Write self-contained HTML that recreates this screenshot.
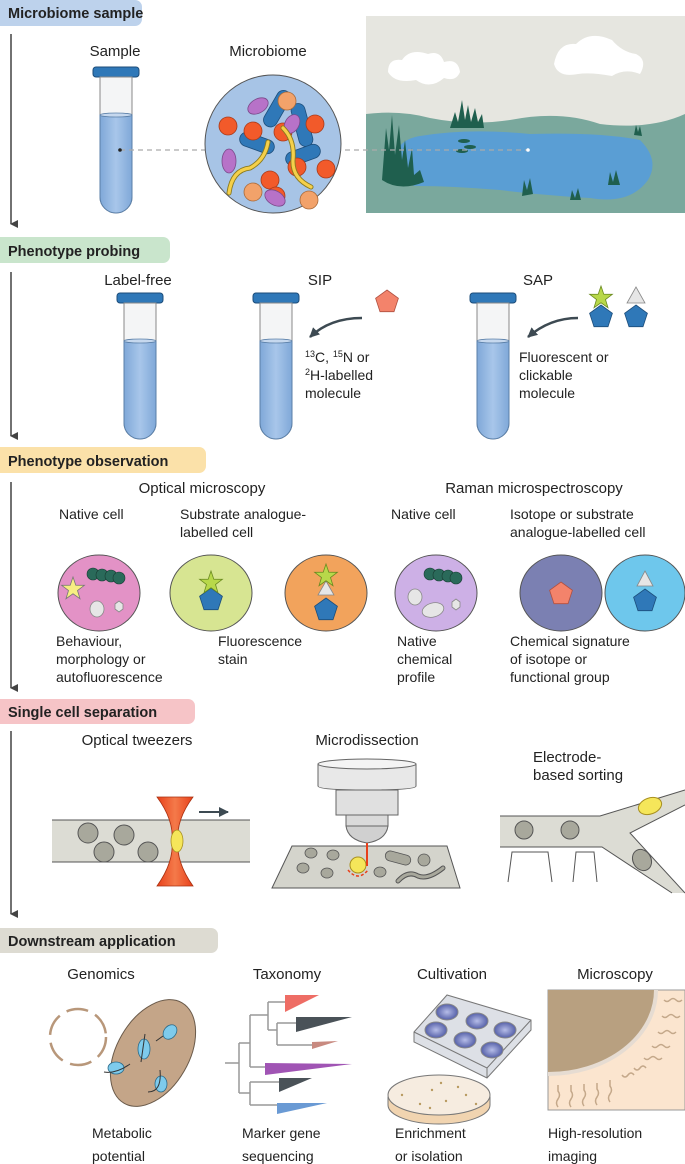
<!DOCTYPE html>
<html><head><meta charset="utf-8"><style>
html,body{margin:0;padding:0;background:#fff}
svg{display:block}
text{font-family:"Liberation Sans",sans-serif;fill:#222}
.h{font-size:14.5px;font-weight:bold}
.t{font-size:15px}
.s{font-size:14px}
</style></head><body>
<svg width="685" height="1164" viewBox="0 0 685 1164" xmlns="http://www.w3.org/2000/svg">
<defs>
<marker id="ah" markerWidth="8" markerHeight="8" refX="4" refY="7" orient="auto" markerUnits="userSpaceOnUse"><path d="M0,0 L4,8 L8,0 Z" fill="#444"/></marker>
<marker id="ar" markerWidth="10" markerHeight="10" refX="9" refY="5" orient="auto" markerUnits="userSpaceOnUse"><path d="M0,0 L10,5 L0,10 Z" fill="#3d4a52"/></marker>
<linearGradient id="liq" x1="0" x2="1"><stop offset="0" stop-color="#7fa8d8"/><stop offset=".5" stop-color="#a8c6ea"/><stop offset="1" stop-color="#7fa8d8"/></linearGradient>
<linearGradient id="beam" x1="0" x2="1"><stop offset="0" stop-color="#e8401a"/><stop offset=".5" stop-color="#f47a4a"/><stop offset="1" stop-color="#e8401a"/></linearGradient>
<radialGradient id="well"><stop offset="0" stop-color="#b6bde8"/><stop offset="1" stop-color="#5560a8"/></radialGradient>
<g id="tube">
<rect x="-23" y="0" width="46" height="10" rx="3" fill="#2f78b8" stroke="#1c4d7a" stroke-width="1"/>
<path d="M-16,10 L-16,130 A16,16 0 0 0 16,130 L16,10 Z" fill="#f4f5f6" stroke="#888" stroke-width="1"/>
<path d="M-16,48 L-16,130 A16,16 0 0 0 16,130 L16,48 Z" fill="url(#liq)" stroke="#5a7fa8" stroke-width="1"/>
<ellipse cx="0" cy="48" rx="16" ry="2" fill="#c6d8ee" stroke="#5a7fa8" stroke-width=".8"/>
</g>
<path id="pent" d="M0,-12 L11.4,-3.7 L7,9.7 L-7,9.7 L-11.4,-3.7 Z"/>
<path id="star" d="M0,-12 L2.8,-3.8 L11.4,-3.7 L4.5,1.5 L7,9.7 L0,4.8 L-7,9.7 L-4.5,1.5 L-11.4,-3.7 L-2.8,-3.8 Z"/>
</defs>

<!-- Headers -->
<rect x="-8" y="0" width="150" height="26" rx="7" fill="#bdd2ec"/>
<text class="h" x="8" y="18">Microbiome sample</text>
<line x1="11" y1="34" x2="11" y2="224" stroke="#444" stroke-width="1.5" marker-end="url(#ah)"/>

<rect x="-8" y="237" width="178" height="26" rx="7" fill="#c9e5cc"/>
<text class="h" x="8" y="256">Phenotype probing</text>
<line x1="11" y1="272" x2="11" y2="436" stroke="#444" stroke-width="1.5" marker-end="url(#ah)"/>

<rect x="-8" y="447" width="214" height="26" rx="7" fill="#fbe1a9"/>
<text class="h" x="8" y="466">Phenotype observation</text>
<line x1="11" y1="482" x2="11" y2="688" stroke="#444" stroke-width="1.5" marker-end="url(#ah)"/>

<rect x="-8" y="699" width="203" height="25" rx="7" fill="#f6c4c7"/>
<text class="h" x="8" y="717">Single cell separation</text>
<line x1="11" y1="731" x2="11" y2="914" stroke="#444" stroke-width="1.5" marker-end="url(#ah)"/>

<rect x="-8" y="928" width="226" height="25" rx="7" fill="#dddbd2"/>
<text class="h" x="8" y="946">Downstream application</text>

<!-- Section 1 -->
<text class="t" x="115" y="56" text-anchor="middle">Sample</text>
<text class="t" x="268" y="56" text-anchor="middle">Microbiome</text>
<use href="#tube" x="116" y="67"/>
<rect x="366" y="16" width="319" height="197" fill="#e6e6e0"/>
<path d="M366,114 Q400,110 430,118 Q470,126 510,120 Q560,110 600,124 Q650,130 685,114 L685,213 L366,213 Z" fill="#7aa89d"/>
<path d="M392,172 Q392,140 420,136 Q470,128 530,134 Q600,132 640,140 Q660,160 648,180 Q630,205 590,198 Q540,195 500,190 Q450,186 420,186 Q395,186 392,172 Z" fill="#5a9ed4"/>
<path d="M382,180 L386,128 L389,150 L392,115 L395,155 L399,125 L402,160 L405,140 L408,168 L412,148 L414,175 L420,170 L424,182 Q400,192 382,180 Z" fill="#1f5f4e"/>
<path d="M450,128 L455,112 L458,122 L462,100 L465,120 L468,105 L471,122 L475,108 L478,122 L482,114 L484,128 Z" fill="#1f5f4e"/>
<ellipse cx="464" cy="141" rx="6" ry="2" fill="#1f5f4e"/><ellipse cx="470" cy="147" rx="6" ry="2" fill="#1f5f4e"/><ellipse cx="462" cy="151" rx="6" ry="2" fill="#1f5f4e"/>
<path d="M522,196 L524,180 L527,190 L530,178 L533,194 Z M570,200 L572,190 L575,198 L578,188 L581,200 Z M608,185 L610,172 L613,182 L616,170 L620,185 Z M634,135 L636,125 L638,132 L640,126 L642,136 Z" fill="#1f5f4e"/>
<path d="M388,72 Q388,58 402,60 Q410,48 428,54 Q440,50 444,62 Q458,58 460,72 Q456,82 444,78 Q430,90 416,80 Q395,84 388,72 Z" fill="#fff"/>
<path d="M554,64 Q558,42 576,44 Q590,30 612,40 Q622,52 636,54 Q648,60 640,74 Q625,68 612,76 Q590,72 578,74 Q558,78 554,64 Z" fill="#fff"/>
<line x1="120" y1="150" x2="528" y2="150" stroke="#aaa" stroke-width="1.2" stroke-dasharray="5,4"/>
<circle cx="120" cy="150" r="1.8" fill="#222"/>
<circle cx="528" cy="150" r="1.8" fill="#fff"/>
<ellipse cx="273" cy="144" rx="68" ry="69" fill="#a7c4e6" stroke="#555" stroke-width="1"/>
<g fill="#2f78b8" stroke="#1c4d7a" stroke-width=".8">
<rect x="260" y="106" width="14" height="40" rx="7" transform="rotate(30 267 126) translate(0,-20)"/>
<rect x="295" y="103" width="14" height="44" rx="7" transform="rotate(-15 302 125)"/>
<rect x="239" y="136" width="36" height="14" rx="7" transform="rotate(20 257 143)"/>
<rect x="285" y="148" width="36" height="14" rx="7" transform="rotate(-20 303 155)"/>
</g>
<g fill="#f25a2a" stroke="#a83a1a" stroke-width=".8">
<circle cx="228" cy="126" r="9"/><circle cx="315" cy="124" r="9"/><circle cx="253" cy="131" r="9"/><circle cx="283" cy="132" r="9"/>
<circle cx="297" cy="167" r="9"/><circle cx="326" cy="169" r="9"/><circle cx="270" cy="180" r="9"/><circle cx="276" cy="196" r="9"/>
</g>
<g fill="#f2a26a" stroke="#a86a3a" stroke-width=".8">
<circle cx="287" cy="101" r="9"/><circle cx="253" cy="192" r="9"/><circle cx="309" cy="200" r="9"/>
</g>
<g fill="#b772c8" stroke="#7a4a8a" stroke-width=".8">
<ellipse cx="258" cy="106" rx="11" ry="7" transform="rotate(-30 258 106)"/>
<ellipse cx="229" cy="161" rx="7" ry="12"/>
<ellipse cx="275" cy="198" rx="11" ry="7" transform="rotate(30 275 198)"/>
<ellipse cx="292" cy="124" rx="7" ry="10" transform="rotate(30 292 124)"/>
</g>
<path d="M229,193 Q232,170 250,168 Q265,160 268,142" fill="none" stroke="#8a7a20" stroke-width="5" stroke-linecap="round"/>
<path d="M229,193 Q232,170 250,168 Q265,160 268,142" fill="none" stroke="#f5d04a" stroke-width="3.2" stroke-linecap="round"/>
<path d="M283,128 Q295,140 293,160 Q292,178 311,187" fill="none" stroke="#8a7a20" stroke-width="5" stroke-linecap="round"/>
<path d="M283,128 Q295,140 293,160 Q292,178 311,187" fill="none" stroke="#f5d04a" stroke-width="3.2" stroke-linecap="round"/>

<!-- Section 2 -->
<text class="t" x="138" y="285" text-anchor="middle">Label-free</text>
<text class="t" x="320" y="285" text-anchor="middle">SIP</text>
<text class="t" x="538" y="285" text-anchor="middle">SAP</text>
<use href="#tube" x="140" y="293"/>
<use href="#tube" x="276" y="293"/>
<use href="#tube" x="493" y="293"/>
<use href="#pent" x="387" y="302" fill="#f3836b" stroke="#b05040" stroke-width=".8"/>
<path d="M362,318 Q330,318 310,337" fill="none" stroke="#3d4a52" stroke-width="2.5" marker-end="url(#ar)"/>
<text class="s" x="305" y="362"><tspan font-size="9" dy="-5">13</tspan><tspan dy="5">C, </tspan><tspan font-size="9" dy="-5">15</tspan><tspan dy="5">N or</tspan></text>
<text class="s" x="305" y="380"><tspan font-size="9" dy="-5">2</tspan><tspan dy="5">H-labelled</tspan></text>
<text class="s" x="305" y="398">molecule</text>
<use href="#pent" x="601" y="317" fill="#2f78b8" stroke="#1c4d7a" stroke-width=".8"/>
<use href="#star" x="601" y="298" fill="#b8d84a" stroke="#6a8a20" stroke-width=".8"/>
<use href="#pent" x="636" y="317" fill="#2f78b8" stroke="#1c4d7a" stroke-width=".8"/>
<path d="M636,287 L645,303 L627,303 Z" fill="#e6e6e6" stroke="#888" stroke-width=".8"/>
<path d="M578,318 Q550,318 528,337" fill="none" stroke="#3d4a52" stroke-width="2.5" marker-end="url(#ar)"/>
<text class="s" x="519" y="362">Fluorescent or</text>
<text class="s" x="519" y="380">clickable</text>
<text class="s" x="519" y="398">molecule</text>

<!-- Section 3 -->
<text class="t" x="202" y="493" text-anchor="middle">Optical microscopy</text>
<text class="t" x="534" y="493" text-anchor="middle">Raman microspectroscopy</text>
<text class="s" x="59" y="519">Native cell</text>
<text class="s" x="180" y="519">Substrate analogue-</text>
<text class="s" x="180" y="537">labelled cell</text>
<text class="s" x="391" y="519">Native cell</text>
<text class="s" x="510" y="519">Isotope or substrate</text>
<text class="s" x="510" y="537">analogue-labelled cell</text>
<g stroke="#555" stroke-width="1">
<ellipse cx="99" cy="593" rx="41" ry="38" fill="#e392c6"/>
<ellipse cx="211" cy="593" rx="41" ry="38" fill="#d7e592"/>
<ellipse cx="326" cy="593" rx="41" ry="38" fill="#f2a35c"/>
<ellipse cx="436" cy="593" rx="41" ry="38" fill="#cdb0e6"/>
<ellipse cx="561" cy="593" rx="41" ry="38" fill="#7b80b2"/>
<ellipse cx="645" cy="593" rx="40" ry="38" fill="#6ec7ec"/>
</g>
<g fill="#2a6a5a" stroke="#183c33" stroke-width=".6">
<circle cx="93" cy="574" r="6"/><circle cx="102" cy="575" r="6"/><circle cx="111" cy="576" r="6"/><circle cx="119" cy="578" r="6"/>
<circle cx="430" cy="574" r="6"/><circle cx="439" cy="575" r="6"/><circle cx="448" cy="576" r="6"/><circle cx="456" cy="578" r="6"/>
</g>
<use href="#star" x="73" y="589" fill="#f7ee82" stroke="#777" stroke-width=".8"/>
<g fill="#e6e6e6" stroke="#888" stroke-width=".8">
<ellipse cx="97" cy="609" rx="7" ry="8"/><path d="M115,604 l4,-3 l4,3 l0,5 l-4,3 l-4,-3 Z"/>
<ellipse cx="415" cy="597" rx="7" ry="8"/><ellipse cx="433" cy="610" rx="11" ry="7" transform="rotate(-15 433 610)"/><path d="M452,602 l4,-3 l4,3 l0,5 l-4,3 l-4,-3 Z"/>
<path d="M326,581 L334,595 L318,595 Z"/>
<path d="M645,571 L653,586 L637,586 Z"/>
</g>
<use href="#pent" x="211" y="600" fill="#2f78b8" stroke="#1c4d7a" stroke-width=".8"/>
<use href="#star" x="211" y="583" fill="#b8d84a" stroke="#6a8a20" stroke-width=".8"/>
<use href="#pent" x="326" y="610" fill="#2f78b8" stroke="#1c4d7a" stroke-width=".8"/>
<use href="#star" x="326" y="576" fill="#b8d84a" stroke="#6a8a20" stroke-width=".8"/>
<use href="#pent" x="561" y="594" fill="#f3836b" stroke="#b05040" stroke-width=".8"/>
<use href="#pent" x="645" y="601" fill="#2f78b8" stroke="#1c4d7a" stroke-width=".8"/>
<text class="s" x="56" y="646">Behaviour,</text>
<text class="s" x="56" y="664">morphology or</text>
<text class="s" x="56" y="682">autofluorescence</text>
<text class="s" x="218" y="646">Fluorescence</text>
<text class="s" x="218" y="664">stain</text>
<text class="s" x="397" y="646">Native</text>
<text class="s" x="397" y="664">chemical</text>
<text class="s" x="397" y="682">profile</text>
<text class="s" x="510" y="646">Chemical signature</text>
<text class="s" x="510" y="664">of isotope or</text>
<text class="s" x="510" y="682">functional group</text>

<!-- Section 4 -->
<text class="t" x="137" y="745" text-anchor="middle">Optical tweezers</text>
<text class="t" x="367" y="745" text-anchor="middle">Microdissection</text>
<text class="t" x="533" y="762">Electrode-</text>
<text class="t" x="533" y="780">based sorting</text>
<rect x="52" y="820" width="198" height="42" fill="#dcdcd4"/>
<line x1="52" y1="820" x2="250" y2="820" stroke="#555"/><line x1="52" y1="862" x2="250" y2="862" stroke="#555"/>
<g fill="#a8a89c" stroke="#555" stroke-width="1">
<circle cx="88" cy="833" r="10"/><circle cx="124" cy="835" r="10"/><circle cx="104" cy="852" r="10"/><circle cx="148" cy="852" r="10"/>
</g>
<path d="M157,797 L193,797 Q176,820 178,841 Q176,862 193,886 L157,886 Q174,862 172,841 Q174,820 157,797 Z" fill="url(#beam)" stroke="#a83010" stroke-width=".8"/>
<ellipse cx="177" cy="841" rx="6" ry="11" fill="#f5e65a" stroke="#a89020" stroke-width=".8"/>
<line x1="199" y1="812" x2="228" y2="812" stroke="#3d4a52" stroke-width="2" marker-end="url(#ar)"/>
<path d="M318,764 L416,764 L416,786 Q416,790 367,790 Q318,790 318,786 Z" fill="#e8e8e8" stroke="#666"/>
<ellipse cx="367" cy="764" rx="49" ry="5" fill="#f4f4f4" stroke="#666"/>
<path d="M336,790 L398,790 L398,815 L336,815 Z" fill="#e0e0e0" stroke="#666"/>
<path d="M346,815 L388,815 L388,826 L346,826 Z" fill="#dadada" stroke="#666"/>
<path d="M346,826 L388,826 Q386,840 367,843 Q348,840 346,826 Z" fill="#d0d0d0" stroke="#666"/>
<path d="M292,846 L447,846 L460,888 L272,888 Z" fill="#d4d4cc" stroke="#555"/>
<g fill="#a8a89c" stroke="#555" stroke-width=".8">
<ellipse cx="311" cy="853" rx="6" ry="5"/><ellipse cx="333" cy="855" rx="6" ry="5"/><ellipse cx="303" cy="868" rx="6" ry="5"/>
<ellipse cx="327" cy="873" rx="6" ry="5"/><ellipse cx="380" cy="872" rx="6" ry="5"/><ellipse cx="424" cy="860" rx="6" ry="6"/>
<rect x="385" y="853" width="26" height="10" rx="5" transform="rotate(15 398 858)"/>
</g>
<path d="M398,881 Q408,870 418,876 Q428,880 443,868" fill="none" stroke="#555" stroke-width="5" stroke-linecap="round"/>
<path d="M398,881 Q408,870 418,876 Q428,880 443,868" fill="none" stroke="#a8a89c" stroke-width="3" stroke-linecap="round"/>
<circle cx="358" cy="865" r="8" fill="#f5e65a" stroke="#a89020"/>
<line x1="367" y1="843" x2="367" y2="866" stroke="#e8401a" stroke-width="2"/>
<path d="M348,870 Q358,882 368,870" fill="none" stroke="#e8401a" stroke-width="1.5" stroke-dasharray="3,2"/>
<path d="M500,816 L600,816 L685,790 L685,805 L630,833 L685,893 L672,893 L602,847 L500,847 Z" fill="#dcdcd4"/>
<path d="M500,816 L600,816 L685,790 M685,805 L630,833 L685,893 M672,893 L602,847 L500,847" fill="none" stroke="#555"/>
<g fill="#a8a89c" stroke="#555"><circle cx="524" cy="830" r="9"/><circle cx="570" cy="830" r="9"/><ellipse cx="642" cy="860" rx="9" ry="11" transform="rotate(-30 642 860)"/></g>
<ellipse cx="650" cy="806" rx="12" ry="8" fill="#f5e65a" stroke="#a89020" transform="rotate(-20 650 806)"/>
<path d="M508,882 L512,852 L548,852 L552,882 M573,882 L576,852 L594,852 L597,882" fill="none" stroke="#555"/>

<!-- Section 5 -->
<text class="t" x="101" y="979" text-anchor="middle">Genomics</text>
<text class="t" x="287" y="979" text-anchor="middle">Taxonomy</text>
<text class="t" x="452" y="979" text-anchor="middle">Cultivation</text>
<text class="t" x="615" y="979" text-anchor="middle">Microscopy</text>
<circle cx="78" cy="1037" r="28" fill="none" stroke="#b8977a" stroke-width="2.5" stroke-dasharray="22,8"/>
<ellipse cx="153" cy="1053" rx="36" ry="58" fill="#c4a588" stroke="#6a5a4a" transform="rotate(30 153 1053)"/>
<g fill="#7ecbec" stroke="#2a6a8a" stroke-width=".8">
<ellipse cx="170" cy="1032" rx="6" ry="8" transform="rotate(40 170 1032)"/>
<ellipse cx="144" cy="1049" rx="6" ry="10"/>
<ellipse cx="116" cy="1068" rx="8" ry="6"/>
<ellipse cx="161" cy="1084" rx="6" ry="8"/>
</g>
<g stroke="#333" stroke-width="1" fill="none">
<path d="M163,1036 l-7,5 M141,1062 L145,1034 M104,1072 Q116,1074 130,1064 M148,1092 Q162,1092 160,1070"/>
</g>
<g stroke="#999" stroke-width="1.5" fill="none">
<path d="M225,1063 L239,1063 M239,1043 L239,1093 M239,1043 L250,1043 M250,1015 L250,1067 M250,1067 L265,1067 M250,1015 L268,1015 M268,1002 L268,1030 M268,1002 L285,1002 M268,1030 L277,1030 M277,1023 L277,1045 M277,1023 L296,1023 M277,1045 L312,1045 M239,1093 L250,1093 M250,1082 L250,1105 M250,1082 L279,1082 M250,1105 L277,1105"/>
</g>
<path d="M285,995 L319,995 L285,1012 Z" fill="#ee6d65"/>
<path d="M296,1017 L352,1017 L296,1032 Z" fill="#4a5258"/>
<path d="M312,1042 L338,1041 L312,1049 Z" fill="#c88a80"/>
<path d="M265,1063 L352,1064 L265,1075 Z" fill="#a054b4"/>
<path d="M279,1078 L312,1078 L279,1092 Z" fill="#4a5258"/>
<path d="M277,1103 L327,1103 L277,1114 Z" fill="#6a9ad4"/>
<path d="M414,1032 L447,995 L531,1020 L531,1030 L487,1078 L414,1042 Z" fill="#dde0e6" stroke="#777"/>
<path d="M414,1032 L487,1068 L531,1020 M487,1068 L487,1078" fill="none" stroke="#777"/>
<g fill="url(#well)" stroke="#888">
<ellipse cx="447" cy="1012" rx="11" ry="8"/><ellipse cx="477" cy="1021" rx="11" ry="8"/><ellipse cx="505" cy="1030" rx="11" ry="8"/>
<ellipse cx="436" cy="1030" rx="11" ry="8"/><ellipse cx="465" cy="1040" rx="11" ry="8"/><ellipse cx="492" cy="1050" rx="11" ry="8"/>
</g>
<path d="M388,1097 L388,1105 A51,19 0 0 0 490,1105 L490,1097 Z" fill="#f1d4b0" stroke="#777"/>
<ellipse cx="439" cy="1095" rx="51" ry="20" fill="#f6ece0" stroke="#777"/>
<g fill="#b89a60"><circle cx="402" cy="1095" r="1.2"/><circle cx="420" cy="1104" r="1.2"/><circle cx="432" cy="1090" r="1.2"/><circle cx="446" cy="1101" r="1.2"/><circle cx="458" cy="1087" r="1.2"/><circle cx="466" cy="1095" r="1.2"/><circle cx="476" cy="1104" r="1.2"/><circle cx="430" cy="1108" r="1.2"/><circle cx="441" cy="1083" r="1.2"/></g>
<rect x="548" y="990" width="137" height="120" fill="#fbe5cf" stroke="#999"/>
<g fill="none" stroke="#c4a88a" stroke-width="1.5">
<path d="M664,1000 q3,3 6,0 q3,-3 6,0 q3,3 6,0 M662,1016 q3,3 6,0 q3,-3 6,0 q3,3 6,0 M658,1032 q3,3 6,0 q3,-3 6,0 q3,3 6,0 M652,1046 q3,3 6,0 q3,-3 6,0 q3,3 6,0 M644,1058 q3,3 6,0 q3,-3 6,0 q3,3 6,0 M634,1068 q3,4 6,0 q3,-4 6,0 M622,1075 q3,4 6,0 q3,-4 6,0 M610,1080 l0,6 q3,4 0,8 q-3,4 0,8 M597,1083 l0,6 q3,4 0,8 q-3,4 0,8 M584,1084 l0,6 q3,4 0,8 q-3,4 0,8 M571,1085 l0,6 q3,4 0,8 q-3,4 0,8 M558,1085 l0,6 q3,4 0,8 q-3,4 0,8"/>
</g>
<path d="M548,990 L656,990 A108,84 0 0 1 548,1074 Z" fill="#b8a080"/>
<path d="M656,990 A108,84 0 0 1 548,1074" fill="none" stroke="#e6dcd2" stroke-width="4"/>
<text class="s" x="92" y="1138">Metabolic</text>
<text class="s" x="92" y="1161">potential</text>
<text class="s" x="242" y="1138">Marker gene</text>
<text class="s" x="242" y="1161">sequencing</text>
<text class="s" x="395" y="1138">Enrichment</text>
<text class="s" x="395" y="1161">or isolation</text>
<text class="s" x="548" y="1138">High-resolution</text>
<text class="s" x="548" y="1161">imaging</text>
</svg>
</body></html>
